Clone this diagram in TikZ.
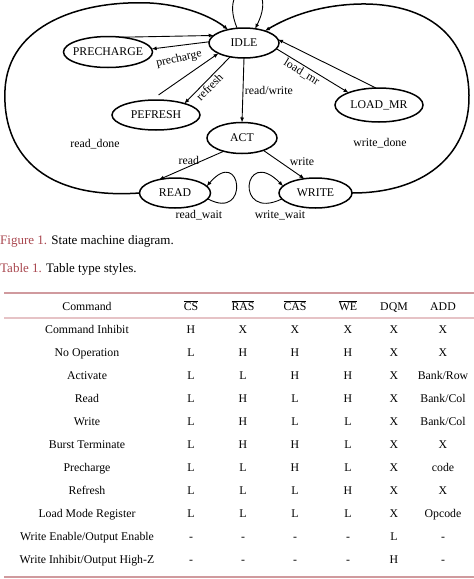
\documentclass[tikz,border=0pt]{standalone}
\usepackage{fontspec}
\setmainfont{Liberation Serif}
\usepackage{xcolor}
\usepackage{tikz}
\usetikzlibrary{arrows.meta,shapes.geometric}
\definecolor{capred}{HTML}{A9474F}
\definecolor{rulec}{HTML}{D09A9E}
\definecolor{rulel}{HTML}{E6C3C6}
\newcommand\diagfont{\fontsize{11.8}{14}\selectfont}
\newcommand\tabfont{\fontsize{11.8}{14}\selectfont}
\newcommand\capfont{\fontsize{13}{15}\selectfont}
\tikzset{
  st/.style={draw,ellipse,line width=1.5pt,inner xsep=-10pt,inner ysep=0pt,outer sep=0pt,minimum height=30pt,font=\diagfont},
  ar/.style={-{Latex[length=5pt,width=4pt]},line width=0.9pt},
  bigar/.style={-{Latex[length=5pt,width=4pt]},line width=1.5pt},
  lbl/.style={font=\diagfont,inner sep=1.5pt},
  cell/.style={font=\tabfont,inner sep=0pt,text height=8pt,text depth=2.5pt},
  capt/.style={font=\capfont,inner sep=0pt}
}
\begin{document}
\begin{tikzpicture}[x=1pt,y=-1pt]
\useasboundingbox (0,0) rectangle (474,579);
% states
\node[st,minimum width=70pt] (idle) at (244,43) {IDLE};
\node[st,minimum width=89pt,minimum height=31pt] (precharge) at (108,52) {PRECHARGE};
\node[st,minimum width=88pt] (pefresh) at (156,115) {PEFRESH};
\node[st,minimum width=88pt,minimum height=34pt] (loadmr) at (379,105) {LOAD\_MR};
\node[st,minimum width=70pt,minimum height=31pt] (act) at (242,138) {ACT};
\node[st,minimum width=71pt] (read) at (175,193) {READ};
\node[st,minimum width=73pt] (write) at (315.5,193) {WRITE};
% transitions
\draw[ar] (idle.115) .. controls (215,-25) and (282,-25) .. (idle.52);
\draw[bigar] (read.west) .. controls (40,200) and (2,150) .. (5,90)
  .. controls (8,25) and (80,0) .. (150,3) .. controls (185,5) and (212,17) .. (idle.140);
\draw[bigar] (write.east) .. controls (430,193) and (470,150) .. (469,95)
  .. controls (468,30) and (420,3) .. (360,4) .. controls (320,5) and (290,16) .. (idle.30);
\draw[ar] (precharge.48) -- (idle.166);
\draw[ar] (idle.178) -- (precharge.4);
\node[lbl,rotate=13] (pclbl) at (179,59) {precharge};
\draw[ar,shorten <=9pt] (pefresh.108) -- (idle.202);
\draw[ar] (idle.225) -- (pefresh.22) node[lbl,pos=.55,sloped,below] {refresh};
\draw[ar] (idle.south) -- (act.north) node[lbl,pos=.5,right] {read/write};
\draw[ar] (idle.-10) -- (loadmr.158) node[lbl,pos=.4,sloped,below] {load\_mr};
\draw[ar] (loadmr.100) -- (idle.6);
\draw[ar] (act.216) -- (read.140) node[lbl,pos=.54,above] {read};
\draw[ar] (act.-30) -- (write.128) node[lbl,pos=.6,above right] {write};
\draw[ar] (read.-10) .. controls (250,222) and (242,145) .. (read.12);
\draw[ar] (write.190) .. controls (234,222) and (243,145) .. (write.168);
\node[lbl] (rdone) at (95,144) {read\_done};
\node[lbl] (wdone) at (380,143) {write\_done};
\node[lbl] (rwait) at (199,215) {read\_wait};
\node[lbl] (wwait) at (280,215) {write\_wait};
% captions
\node[capt,anchor=base west] (figcap) at (0,244) {\textcolor{capred}{Figure 1.} State machine diagram.};
\node[capt,anchor=base west] (tabcap) at (0,272) {\textcolor{capred}{Table 1.} Table type styles.};
% table
\draw[rulec,line width=2pt] (4,293) -- (474,293);
\draw[rulel,line width=1.5pt] (4,318) -- (474,318);
\draw[rulec,line width=2pt] (4,577) -- (474,577);
\foreach \hx/\htxt [count=\j] in {87/Command,191/$\overline{\mbox{CS}}$,243/$\overline{\mbox{RAS}}$,
  295/$\overline{\mbox{CAS}}$,348/$\overline{\mbox{WE}}$,394/DQM,443/ADD}
  \node[cell] (head\j) at (\hx,308) {\htxt};
\foreach \cmd/\cs/\ras/\cas/\we/\dqm/\add [count=\i] in {
  Command Inhibit/H/X/X/X/X/X,
  No Operation/L/H/H/H/X/X,
  Activate/L/L/H/H/X/{Bank/Row},
  Read/L/H/L/H/X/{Bank/Col},
  Write/L/H/L/L/X/{Bank/Col},
  Burst Terminate/L/H/H/L/X/X,
  Precharge/L/L/H/L/X/code,
  Refresh/L/L/L/H/X/X,
  Load Mode Register/L/L/L/L/X/Opcode,
  {Write Enable/Output Enable}/-/-/-/-/L/-,
  {Write Inhibit/Output High-Z}/-/-/-/-/H/-}{
  \node[cell] (cmd\i) at (87,{308+23*\i}) {\cmd};
  \node[cell] (cs\i) at (191,{308+23*\i}) {\cs};
  \node[cell] (ras\i) at (243,{308+23*\i}) {\ras};
  \node[cell] (cas\i) at (295,{308+23*\i}) {\cas};
  \node[cell] (we\i) at (348,{308+23*\i}) {\we};
  \node[cell] (dqm\i) at (394,{308+23*\i}) {\dqm};
  \node[cell] (add\i) at (443,{308+23*\i}) {\add};
}
\end{tikzpicture}
\end{document}
